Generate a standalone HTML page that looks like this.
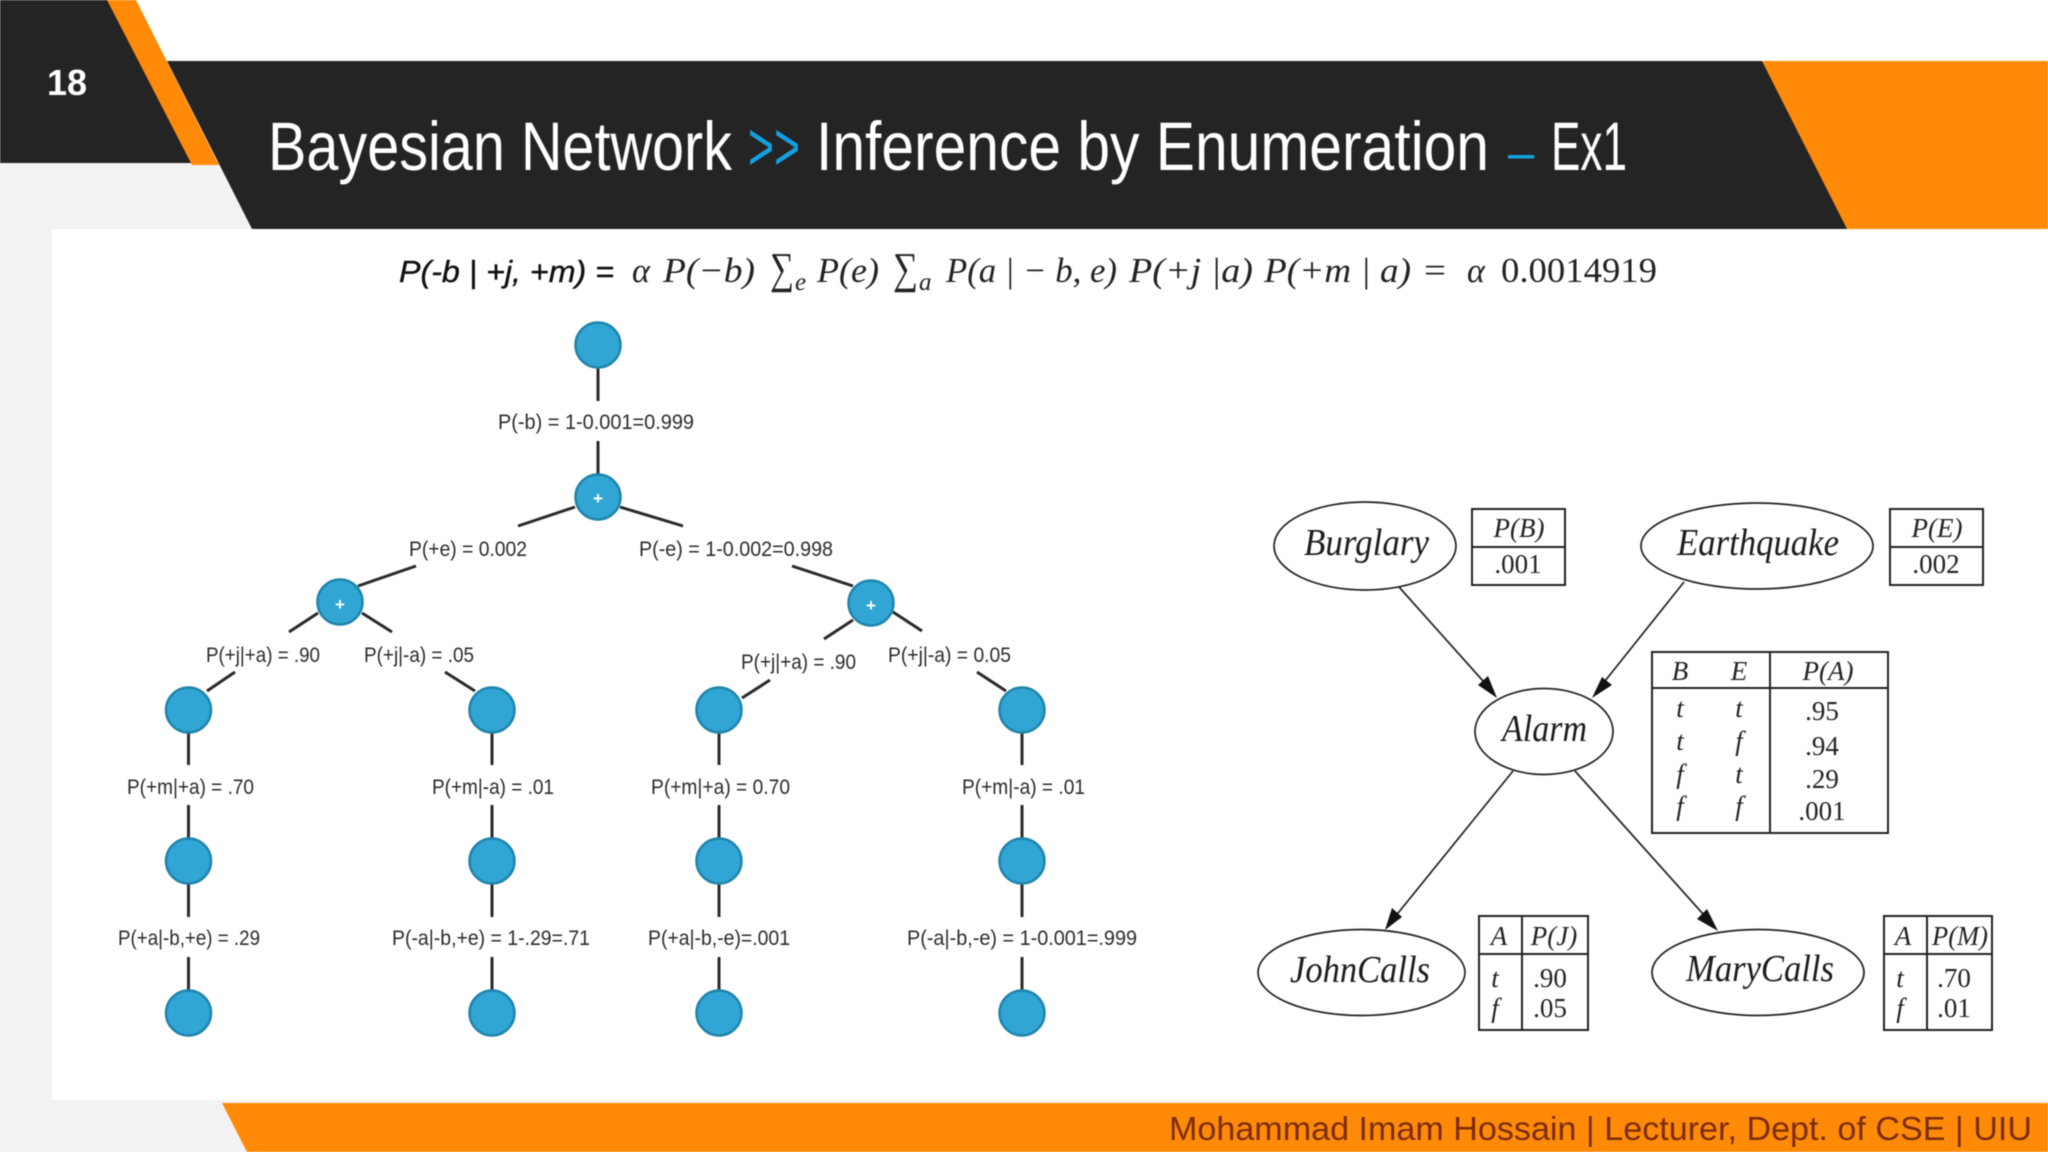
<!DOCTYPE html>
<html lang="en"><head><meta charset="utf-8"><title>Bayesian Network</title>
<style>
html,body{margin:0;padding:0;background:#fff;width:2048px;height:1152px;overflow:hidden}
svg{display:block;filter:blur(.45px)}
.sans{font-family:"Liberation Sans",sans-serif}
.serif{font-family:"Liberation Serif",serif}
.lb{font-family:"Liberation Sans",sans-serif;font-size:21px;fill:#2b2b2b}
.m{font-family:"Liberation Serif",serif;font-size:35px;font-style:italic;fill:#222}
.mu{font-family:"Liberation Serif",serif;font-size:35px;fill:#222}
.nm{font-family:"Liberation Serif",serif;font-size:38px;font-style:italic;fill:#1c1c1c}
.t{font-family:"Liberation Serif",serif;font-size:27px;font-style:italic;fill:#222;text-anchor:middle}
.v{font-family:"Liberation Serif",serif;font-size:27px;fill:#222;text-anchor:middle}
.tree line{stroke:#2a2a2a;stroke-width:3}
.tree circle{fill:#31a6d5;stroke:#1f84ac;stroke-width:2.5}
.bn ellipse{fill:#fff;stroke:#222;stroke-width:1.7}
.bn rect{fill:#fff;stroke:#222;stroke-width:2}
.bn line.g{stroke:#222;stroke-width:2}
.bn line.a{stroke:#222;stroke-width:1.7}
.bn polygon{fill:#111}
</style></head><body>
<svg width="2048" height="1152" viewBox="0 0 2048 1152" xmlns="http://www.w3.org/2000/svg">
<!-- backgrounds -->
<rect width="2048" height="1152" fill="#fff"/>
<rect x="0" y="163" width="260" height="989" fill="#f2f2f2"/>
<rect x="0" y="1100" width="2048" height="52" fill="#f2f2f2"/>
<rect x="52" y="229" width="1996" height="871" fill="#fff"/>
<!-- header -->
<polygon points="0,0 108,0 192,163 0,163" fill="#242424"/>
<polygon points="107,0 136,0 219,165 192,165" fill="#ff8a07"/>
<polygon points="167,61 1763,61 1848,229 252,229" fill="#242424"/>
<polygon points="1762,61 2048,61 2048,229 1847,229" fill="#ff8a07"/>
<polygon points="222,1103 2048,1103 2048,1152 247,1152" fill="#ff8a07"/>
<text x="47" y="95" class="sans" font-size="36" font-weight="bold" fill="#fff" textLength="40" lengthAdjust="spacingAndGlyphs">18</text>
<g class="sans" font-size="69" fill="#fff">
<text x="268" y="170" textLength="464" lengthAdjust="spacingAndGlyphs">Bayesian Network</text>
<text x="748" y="170" textLength="52" lengthAdjust="spacingAndGlyphs" fill="#14a0e0">&gt;&gt;</text>
<text x="816" y="170" textLength="673" lengthAdjust="spacingAndGlyphs">Inference by Enumeration</text>
<text x="1508" y="170" textLength="26" lengthAdjust="spacingAndGlyphs" fill="#14a0e0" font-size="52" style="font-size:52px">–</text>
<text x="1551" y="170" textLength="76" lengthAdjust="spacingAndGlyphs">Ex1</text>
</g>
<!-- formula -->
<text x="399" y="282" class="sans" font-size="31" font-style="italic" fill="#111" stroke="#111" stroke-width=".4" textLength="215" lengthAdjust="spacingAndGlyphs">P(-b | +j, +m) =</text>
<text x="632" y="282" class="m" textLength="18" lengthAdjust="spacingAndGlyphs">α</text>
<text x="663" y="282" class="m" textLength="92" lengthAdjust="spacingAndGlyphs">P(−b)</text>
<text x="770" y="283" class="mu" style="font-size:44px" textLength="24" lengthAdjust="spacingAndGlyphs">∑</text>
<text x="795" y="290" class="m" style="font-size:25px">e</text>
<text x="817" y="282" class="m" textLength="62" lengthAdjust="spacingAndGlyphs">P(e)</text>
<text x="893" y="283" class="mu" style="font-size:44px" textLength="25" lengthAdjust="spacingAndGlyphs">∑</text>
<text x="919" y="290" class="m" style="font-size:25px">a</text>
<text x="946" y="282" class="m" textLength="171" lengthAdjust="spacingAndGlyphs">P(a | − b, e)</text>
<text x="1129" y="282" class="m" textLength="124" lengthAdjust="spacingAndGlyphs">P(+j |a)</text>
<text x="1264" y="282" class="m" textLength="147" lengthAdjust="spacingAndGlyphs">P(+m | a)</text>
<text x="1424" y="282" class="mu" textLength="22" lengthAdjust="spacingAndGlyphs">=</text>
<text x="1467" y="282" class="m" textLength="18" lengthAdjust="spacingAndGlyphs">α</text>
<text x="1501" y="282" class="mu" textLength="156" lengthAdjust="spacingAndGlyphs">0.0014919</text>
<!-- tree -->
<g class="tree">
<line x1="598" y1="368" x2="598" y2="401"/><line x1="598" y1="441" x2="598" y2="474"/>
<line x1="575" y1="507" x2="518" y2="526"/><line x1="620" y1="507" x2="683" y2="526"/>
<line x1="416" y1="566" x2="358" y2="586"/><line x1="792" y1="566" x2="853" y2="586"/>
<line x1="318" y1="613" x2="289" y2="632"/><line x1="362" y1="613" x2="392" y2="632"/>
<line x1="853" y1="620" x2="824" y2="639"/><line x1="893" y1="612" x2="922" y2="631"/>
<line x1="235" y1="672" x2="207" y2="691"/><line x1="445" y1="672" x2="475" y2="691"/>
<line x1="770" y1="680" x2="742" y2="698"/><line x1="977" y1="672" x2="1006" y2="691"/>
<line x1="188.500" y1="733" x2="188.500" y2="765"/><line x1="188.500" y1="805" x2="188.500" y2="838"/><line x1="188.500" y1="884" x2="188.500" y2="917"/><line x1="188.500" y1="957" x2="188.500" y2="990"/>
<line x1="492" y1="733" x2="492" y2="765"/><line x1="492" y1="805" x2="492" y2="838"/><line x1="492" y1="884" x2="492" y2="917"/><line x1="492" y1="957" x2="492" y2="990"/>
<line x1="719" y1="733" x2="719" y2="765"/><line x1="719" y1="805" x2="719" y2="838"/><line x1="719" y1="884" x2="719" y2="917"/><line x1="719" y1="957" x2="719" y2="990"/>
<line x1="1022" y1="733" x2="1022" y2="765"/><line x1="1022" y1="805" x2="1022" y2="838"/><line x1="1022" y1="884" x2="1022" y2="917"/><line x1="1022" y1="957" x2="1022" y2="990"/>
<circle cx="598" cy="345" r="22.500"/><circle cx="598" cy="497" r="22.500"/><circle cx="340" cy="602" r="22.500"/><circle cx="871" cy="603" r="22.500"/>
<circle cx="188.500" cy="710" r="22.500"/><circle cx="492" cy="710" r="22.500"/><circle cx="719" cy="710" r="22.500"/><circle cx="1022" cy="710" r="22.500"/>
<circle cx="188.500" cy="861" r="22.500"/><circle cx="492" cy="861" r="22.500"/><circle cx="719" cy="861" r="22.500"/><circle cx="1022" cy="861" r="22.500"/>
<circle cx="188.500" cy="1013" r="22.500"/><circle cx="492" cy="1013" r="22.500"/><circle cx="719" cy="1013" r="22.500"/><circle cx="1022" cy="1013" r="22.500"/>
</g>
<g class="sans" font-size="17" font-weight="bold" fill="#fff" text-anchor="middle">
<text x="598" y="504">+</text><text x="340" y="610">+</text><text x="871" y="611">+</text>
</g>
<g class="lb">
<text x="498" y="429" textLength="196" lengthAdjust="spacingAndGlyphs">P(-b) = 1-0.001=0.999</text>
<text x="409" y="556" textLength="118" lengthAdjust="spacingAndGlyphs">P(+e) = 0.002</text>
<text x="639" y="556" textLength="194" lengthAdjust="spacingAndGlyphs">P(-e) = 1-0.002=0.998</text>
<text x="206" y="662" textLength="114" lengthAdjust="spacingAndGlyphs">P(+j|+a) = .90</text>
<text x="364" y="662" textLength="110" lengthAdjust="spacingAndGlyphs">P(+j|-a) = .05</text>
<text x="741" y="669" textLength="115" lengthAdjust="spacingAndGlyphs">P(+j|+a) = .90</text>
<text x="888" y="662" textLength="123" lengthAdjust="spacingAndGlyphs">P(+j|-a) = 0.05</text>
<text x="127" y="794" textLength="127" lengthAdjust="spacingAndGlyphs">P(+m|+a) = .70</text>
<text x="432" y="794" textLength="122" lengthAdjust="spacingAndGlyphs">P(+m|-a) = .01</text>
<text x="651" y="794" textLength="139" lengthAdjust="spacingAndGlyphs">P(+m|+a) = 0.70</text>
<text x="962" y="794" textLength="123" lengthAdjust="spacingAndGlyphs">P(+m|-a) = .01</text>
<text x="118" y="945" textLength="142" lengthAdjust="spacingAndGlyphs">P(+a|-b,+e) = .29</text>
<text x="392" y="945" textLength="198" lengthAdjust="spacingAndGlyphs">P(-a|-b,+e) = 1-.29=.71</text>
<text x="648" y="945" textLength="142" lengthAdjust="spacingAndGlyphs">P(+a|-b,-e)=.001</text>
<text x="907" y="945" textLength="230" lengthAdjust="spacingAndGlyphs">P(-a|-b,-e) = 1-0.001=.999</text>
</g>
<!-- bayes net -->
<g class="bn">
<line class="a" x1="1399" y1="587" x2="1492" y2="691"/>
<line class="a" x1="1684" y1="582" x2="1597" y2="691"/>
<line class="a" x1="1513" y1="771" x2="1390" y2="923"/>
<line class="a" x1="1575" y1="771" x2="1712" y2="924"/>
<polygon points="1497,698 1478,685 1488,676"/>
<polygon points="1592,698 1602,677 1612,685"/>
<polygon points="1385,930 1392,908 1402,917"/>
<polygon points="1718,931 1697,919 1707,909"/>
<ellipse cx="1365" cy="546" rx="91" ry="44"/>
<ellipse cx="1757" cy="546" rx="116" ry="43"/>
<ellipse cx="1544" cy="731.500" rx="69" ry="43"/>
<ellipse cx="1361.500" cy="972.500" rx="103.500" ry="43"/>
<ellipse cx="1758" cy="972.500" rx="106" ry="43"/>
<rect x="1472" y="509" width="93" height="76"/><line class="g" x1="1472" y1="547" x2="1565" y2="547"/>
<rect x="1890" y="509" width="93" height="76"/><line class="g" x1="1890" y1="547" x2="1983" y2="547"/>
<rect x="1652" y="652" width="236" height="181"/><line class="g" x1="1652" y1="688" x2="1888" y2="688"/><line class="g" x1="1770" y1="652" x2="1770" y2="833"/>
<rect x="1479" y="916" width="109" height="114"/><line class="g" x1="1479" y1="954" x2="1588" y2="954"/><line class="g" x1="1522" y1="916" x2="1522" y2="1030"/>
<rect x="1884" y="916" width="108" height="114"/><line class="g" x1="1884" y1="954" x2="1992" y2="954"/><line class="g" x1="1927" y1="916" x2="1927" y2="1030"/>
</g>
<text x="1304" y="555" class="nm" textLength="125" lengthAdjust="spacingAndGlyphs">Burglary</text>
<text x="1677" y="555" class="nm" textLength="162" lengthAdjust="spacingAndGlyphs">Earthquake</text>
<text x="1502" y="741" class="nm" textLength="85" lengthAdjust="spacingAndGlyphs">Alarm</text>
<text x="1290" y="982" class="nm" textLength="140" lengthAdjust="spacingAndGlyphs">JohnCalls</text>
<text x="1686" y="981" class="nm" textLength="148" lengthAdjust="spacingAndGlyphs">MaryCalls</text>
<text x="1519" y="537" class="t">P(B)</text><text x="1518" y="573" class="v">.001</text>
<text x="1937" y="537" class="t">P(E)</text><text x="1936" y="573" class="v">.002</text>
<text x="1680" y="680" class="t">B</text><text x="1739" y="680" class="t">E</text><text x="1828" y="680" class="t">P(A)</text>
<text x="1680" y="717" class="t">t</text><text x="1739" y="717" class="t">t</text><text x="1822" y="720" class="v">.95</text>
<text x="1680" y="750" class="t">t</text><text x="1739" y="750" class="t">f</text><text x="1822" y="755" class="v">.94</text>
<text x="1680" y="783" class="t">f</text><text x="1739" y="783" class="t">t</text><text x="1822" y="788" class="v">.29</text>
<text x="1680" y="815" class="t">f</text><text x="1739" y="815" class="t">f</text><text x="1822" y="820" class="v">.001</text>
<text x="1499" y="945" class="t">A</text><text x="1554" y="945" class="t">P(J)</text>
<text x="1495" y="987" class="t">t</text><text x="1550" y="987" class="v">.90</text>
<text x="1495" y="1017" class="t">f</text><text x="1550" y="1017" class="v">.05</text>
<text x="1903" y="945" class="t">A</text><text x="1960" y="945" class="t" textLength="56" lengthAdjust="spacingAndGlyphs">P(M)</text>
<text x="1900" y="987" class="t">t</text><text x="1954" y="987" class="v">.70</text>
<text x="1900" y="1017" class="t">f</text><text x="1954" y="1017" class="v">.01</text>
<!-- footer -->
<text x="1169" y="1140" class="sans" font-size="33" fill="#7b2c0c" textLength="863" lengthAdjust="spacingAndGlyphs">Mohammad Imam Hossain | Lecturer, Dept. of CSE | UIU</text>
</svg>
</body></html>
